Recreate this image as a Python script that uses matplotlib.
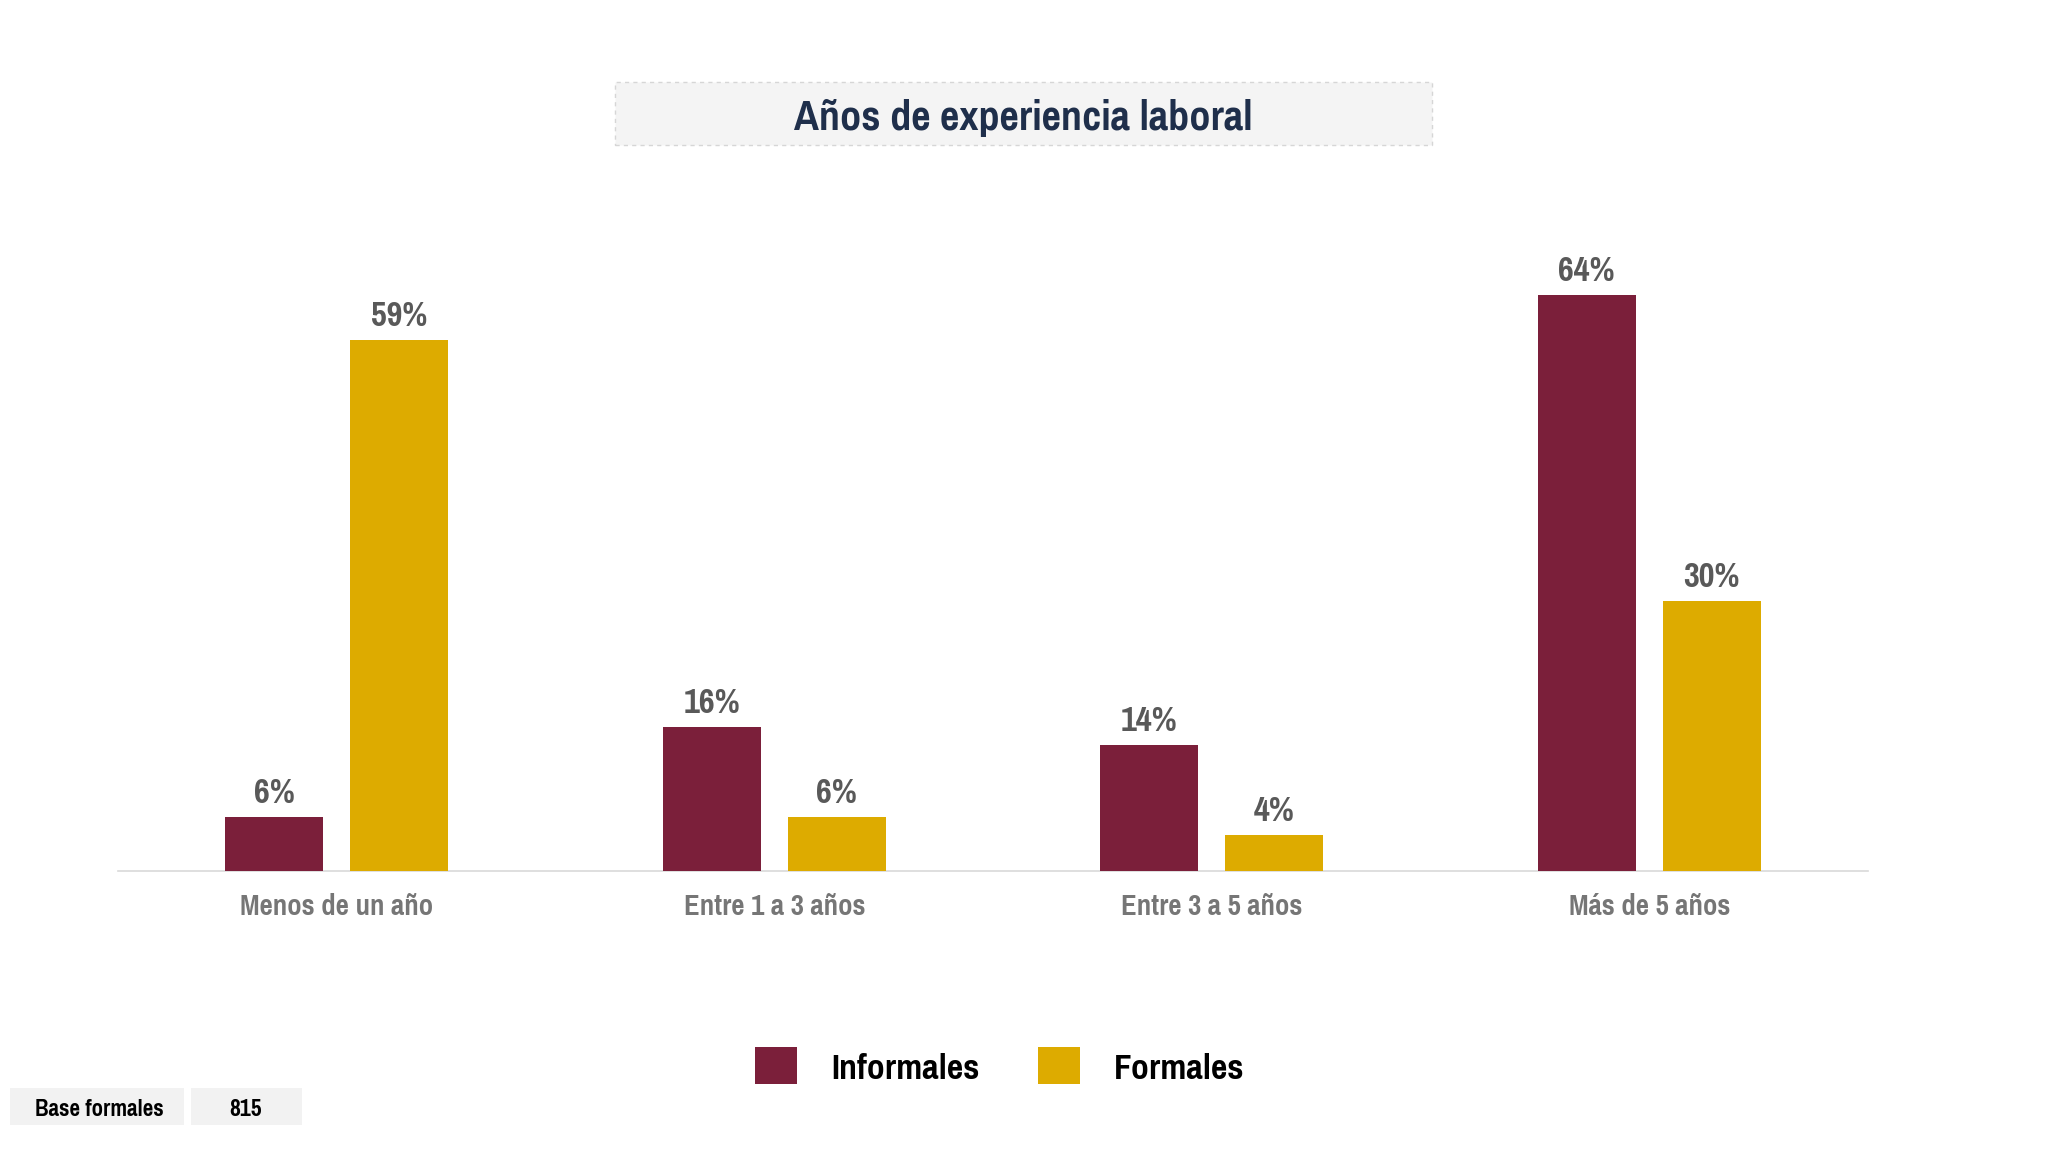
import matplotlib
matplotlib.use("Agg")
import matplotlib.pyplot as plt
import numpy as np
from matplotlib import font_manager
from matplotlib.patches import Rectangle, Patch

# pick a narrow sans (Arial Narrow look-alike) among the installed fonts
instalados = {f.name for f in font_manager.fontManager.ttflist}
narrow = [n for n in ['Arial Narrow', 'Liberation Sans Narrow', 'Pragati Narrow', 'Archivo Narrow',
                      'PT Sans Narrow', 'Roboto Condensed'] if n in instalados]
plt.rcParams['font.family'] = narrow[:1] + ['Liberation Sans', 'DejaVu Sans']

categorias = ['Menos de un año', 'Entre 1 a 3 años', 'Entre 3 a 5 años', 'Más de 5 años']
informales = [6, 16, 14, 64]
formales = [59, 6, 4, 30]
series = ['Informales', 'Formales']
colores = ['#7b1f3a', '#ddab00']
base_label = 'Base formales'
base_valor = '815'

W, H = 2048, 1152
fig = plt.figure(figsize=(W / 100, H / 100), dpi=100)
fig.patch.set_facecolor('white')

# axes position in pixel terms
left, right, bottom, top = 118, 1868, 871, 200
ax = fig.add_axes([left / W, 1 - bottom / H, (right - left) / W, (bottom - top) / H])

x = np.arange(len(categorias))
w = 0.224
off = 0.143
b1 = ax.bar(x - off, informales, w, color=colores[0], zorder=3)
b2 = ax.bar(x + off, formales, w, color=colores[1], zorder=3)

for bars, vals in [(b1, informales), (b2, formales)]:
    for r, v in zip(bars, vals):
        ax.annotate(f'{v}%', (r.get_x() + r.get_width() / 2, r.get_height()),
                    xytext=(0, 10), textcoords='offset points', ha='center', va='baseline',
                    fontsize=27, fontweight='bold', color='#595959')

ax.set_xlim(-0.5, 3.5)
ax.set_ylim(0, (bottom - top) / 9.0)
ax.set_xticks(x)
ax.set_xticklabels(categorias, fontsize=22.5, fontweight='bold', color='#767676')
ax.tick_params(axis='x', length=0, pad=16)
ax.set_yticks([])
for s in ['top', 'right', 'left']:
    ax.spines[s].set_visible(False)
ax.spines['bottom'].set_color('#d9d9d9')
ax.spines['bottom'].set_linewidth(1.2)

# title box
fig.patches.append(Rectangle((615 / W, 1 - 145 / H), (1432 - 615) / W, (145 - 82) / H,
                             transform=fig.transFigure, facecolor='#f4f4f4', edgecolor='#d6d6d6',
                             linestyle=(0, (3, 3)), linewidth=1))
fig.text(0.4997, 1 - 118 / H, 'Años de experiencia laboral', ha='center', va='center',
         fontsize=33, fontweight='bold', color='#1f2f4b')

# legend
handles = [Patch(facecolor=c, label=s) for c, s in zip(colores, series)]
leg = fig.legend(handles=handles, loc='center', bbox_to_anchor=(0.488, 1 - 1066 / H), ncol=2,
                 frameon=False, fontsize=28, handlelength=1.1, handleheight=1.1,
                 handletextpad=0.86, columnspacing=1.5)
for t in leg.get_texts():
    t.set_fontweight('bold')

# base box
fig.patches.append(Rectangle((10 / W, 1 - 1125 / H), 174 / W, 37 / H, transform=fig.transFigure,
                             facecolor='#f2f2f2', edgecolor='none'))
fig.patches.append(Rectangle((191 / W, 1 - 1125 / H), 111 / W, 37 / H, transform=fig.transFigure,
                             facecolor='#f2f2f2', edgecolor='none'))
fig.text(99 / W, 1 - 1110 / H, base_label, ha='center', va='center', fontsize=18,
         fontweight='bold', color='black')
fig.text(246 / W, 1 - 1110 / H, base_valor, ha='center', va='center', fontsize=18.5,
         fontweight='bold', color='black')

fig.savefig('out.png', dpi=100)
